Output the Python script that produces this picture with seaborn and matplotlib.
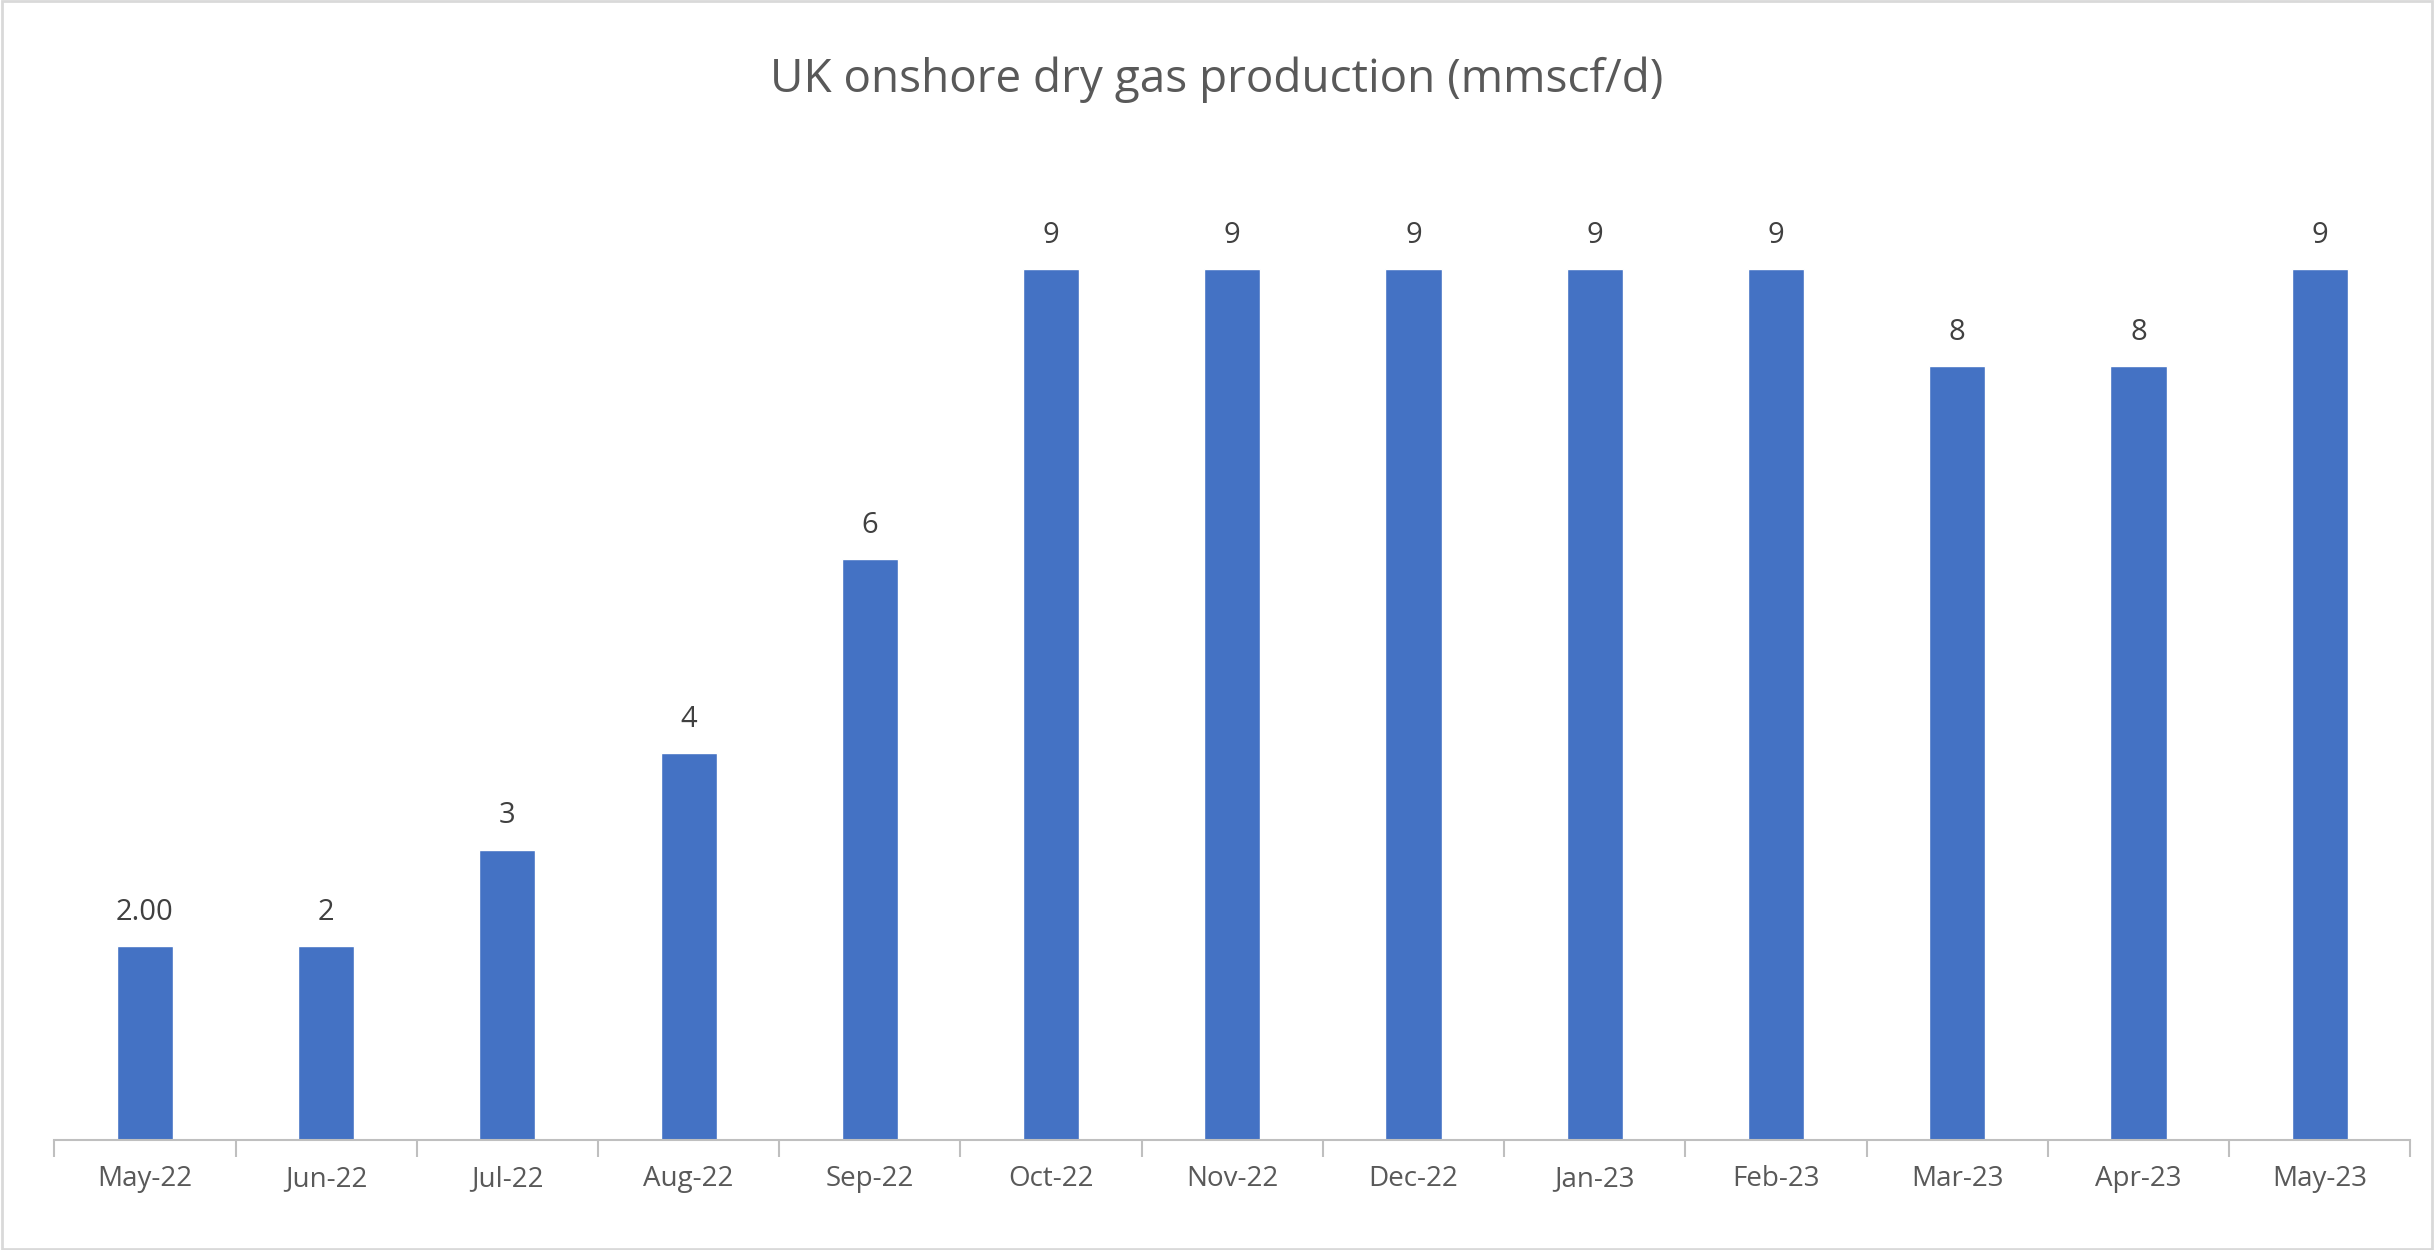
import matplotlib
matplotlib.use("Agg")
import matplotlib.pyplot as plt
import seaborn as sns
import pandas as pd

months = ["May-22", "Jun-22", "Jul-22", "Aug-22", "Sep-22", "Oct-22", "Nov-22",
          "Dec-22", "Jan-23", "Feb-23", "Mar-23", "Apr-23", "May-23"]
production = [2, 2, 3, 4, 6, 9, 9, 9, 9, 9, 8, 8, 9]
labels = ["2.00", "2", "3", "4", "6", "9", "9", "9", "9", "9", "8", "8", "9"]

df = pd.DataFrame({"month": months, "production": production})

sns.set_theme(style="white")
plt.rcParams["font.family"] = ["Open Sans", "DejaVu Sans"]

fig = plt.figure(figsize=(24.34, 12.5), dpi=100)
ax = fig.add_axes([0.0223, 0.088, 0.968, 0.788])

sns.barplot(data=df, x="month", y="production", color="#4472C4",
            width=0.31, saturation=1, ax=ax)

for i, (v, t) in enumerate(zip(production, labels)):
    ax.text(i, v + 0.2, t, ha="center", va="bottom", fontsize=21, color="#404040")

ax.set_xlim(-0.5, len(months) - 0.5)
ax.set_ylim(0, 10.18)
ax.set_yticks([])
ax.set_xlabel("")
ax.set_ylabel("")
for s in ["top", "right", "left"]:
    ax.spines[s].set_visible(False)
ax.spines["bottom"].set_color("#BFBFBF")
ax.spines["bottom"].set_linewidth(1.5)

ax.set_xticks(range(len(months)))
ax.set_xticklabels(months, fontsize=20, color="#595959")
ax.tick_params(axis="x", length=0, pad=18)
ax.set_xticks([i - 0.5 for i in range(len(months) + 1)], minor=True)
ax.tick_params(axis="x", which="minor", length=12, width=1.5, color="#BFBFBF",
               direction="out", bottom=True)

fig.suptitle("UK onshore dry gas production (mmscf/d)", y=0.955,
             fontsize=33, color="#595959")

fig.patches.append(plt.Rectangle((0.001, 0.001), 0.998, 0.998, transform=fig.transFigure,
                                 fill=False, edgecolor="#D9D9D9", linewidth=2))

fig.savefig("out.png", dpi=100)
